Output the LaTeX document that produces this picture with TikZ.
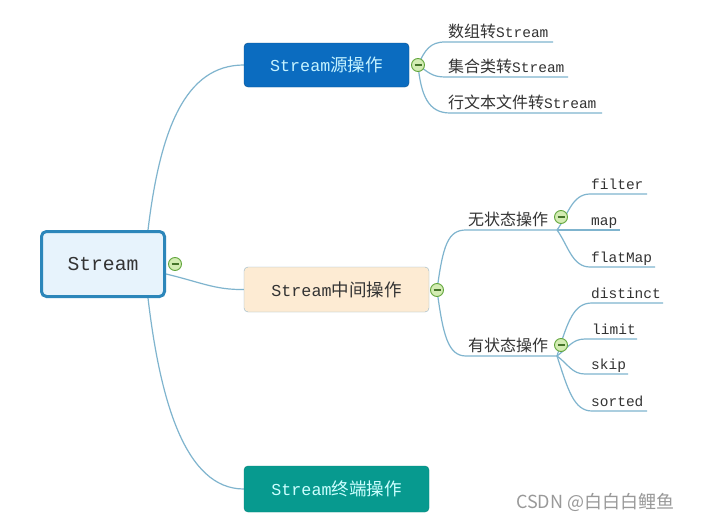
\documentclass[tikz,border=0pt]{standalone}
\usepackage{fontspec}
\setmonofont{Liberation Mono}
\newfontfamily\cjk{Noto Sans CJK SC}
\usetikzlibrary{backgrounds}
\definecolor{linec}{HTML}{7FB4CE}
\definecolor{rootdraw}{HTML}{2C86BA}
\definecolor{rootfill}{HTML}{E7F3FC}
\definecolor{srcfill}{HTML}{0B6CC0}
\definecolor{srcdraw}{HTML}{0A4F8A}
\definecolor{srctext}{HTML}{C5F3FF}
\definecolor{midfill}{HTML}{FDEBD3}
\definecolor{middraw}{HTML}{93B5C8}
\definecolor{termfill}{HTML}{079A8F}
\definecolor{termtext}{HTML}{CCFFFF}
\definecolor{txt}{HTML}{333333}
\definecolor{knobfill}{HTML}{D3ECB3}
\definecolor{knobdraw}{HTML}{62A63C}
\newcommand\zhbig[1]{{\cjk\fontsize{17.5}{20}\selectfont #1}}
\newcommand\zhsmall[1]{{\cjk\fontsize{16}{18}\selectfont #1}}
\tikzset{
  conn/.style={draw=linec, line width=1.2pt},
  rootbox/.style={draw=rootdraw, fill=rootfill, line width=3pt, rounded corners=5pt,
    minimum width=123pt, minimum height=65pt, text=txt,
    font=\fontsize{19.7}{22}\selectfont\ttfamily},
  mainbox/.style={rounded corners=4pt, minimum height=44pt, inner sep=0pt,
    font=\fontsize{16.7}{20}\selectfont\ttfamily},
  leaf/.style={anchor=base west, inner sep=0pt, text=txt,
    font=\fontsize{14.5}{17}\selectfont\ttfamily},
  knob/.style={circle, minimum size=13pt, inner sep=0pt, draw=knobdraw, fill=knobfill, line width=0.9pt,
    path picture={\draw[knobdraw!70!black, line width=1.1pt]
      ([xshift=-3.5pt]path picture bounding box.center) -- ([xshift=3.5pt]path picture bounding box.center);}}
}
\begin{document}
\begin{tikzpicture}[x=1pt,y=-1pt]
\useasboundingbox (0,0) rectangle (702,522);
\begin{scope}[on background layer]
\fill[white] (0,0) rectangle (702,522);
\end{scope}

% main nodes
\node[rootbox] (root) at (103,264) {Stream};
\node[mainbox, fill=srcfill, draw=srcdraw, text=srctext, minimum width=165pt] (src) at (326.5,65) {Stream\zhbig{源操作}};
\node[mainbox, fill=midfill, draw=middraw, text=txt, minimum width=185pt, minimum height=45pt] (mid) at (336.5,289.5) {Stream\zhbig{中间操作}};
\node[mainbox, fill=termfill, draw=termfill!85!black, text=termtext, minimum width=185pt, minimum height=46pt] (term) at (336.5,489) {Stream\zhbig{终端操作}};

% knobs
\node[knob] (k0) at (175,264) {};
\node[knob] (k1) at (418,65) {};
\node[knob] (k2) at (437,290) {};
\node[knob] (k3) at (561,217) {};
\node[knob] (k4) at (561,345) {};

% coordinates for underlines
\coordinate (a1s) at (445,42);  \coordinate (a1e) at (553,42);
\coordinate (a2s) at (445,77);  \coordinate (a2e) at (568,77);
\coordinate (a3s) at (450,113); \coordinate (a3e) at (602,113);
\coordinate (b1s) at (466,230); \coordinate (b1e) at (557,230);
\coordinate (b2s) at (466,356); \coordinate (b2e) at (557,356);
\coordinate (c1s) at (590,194); \coordinate (c1e) at (647,194);
\coordinate (c2e) at (620,230);
\coordinate (c3s) at (590,267); \coordinate (c3e) at (655,267);
\coordinate (d1s) at (592,303); \coordinate (d1e) at (663,303);
\coordinate (d2s) at (585,339); \coordinate (d2e) at (637,339);
\coordinate (d3s) at (585,374); \coordinate (d3e) at (628,374);
\coordinate (d4s) at (592,411); \coordinate (d4e) at (647,411);

% leaf texts
\node[leaf] (a1) at (448,37) {\zhsmall{数组转}Stream};
\node[leaf] (a2) at (448,72) {\zhsmall{集合类转}Stream};
\node[leaf] (a3) at (448,108) {\zhsmall{行文本文件转}Stream};
\node[leaf] (b1) at (468,225) {\zhsmall{无状态操作}};
\node[leaf] (b2) at (468,351) {\zhsmall{有状态操作}};
\node[leaf] (c1) at (591,189) {filter};
\node[leaf] (c2) at (591,225) {map};
\node[leaf] (c3) at (591,262) {flatMap};
\node[leaf] (d1) at (591,298) {distinct};
\node[leaf] (d2) at (592,334) {limit};
\node[leaf] (d3) at (591,369) {skip};
\node[leaf] (d4) at (591,406) {sorted};

% watermark
\node[anchor=west, inner sep=0pt, text=black!40, font=\cjk\fontsize{18}{20}\selectfont] (wm) at (516,502) {CSDN @白白白鲤鱼};

% connectors
\begin{scope}[on background layer]
\draw[conn] ([xshift=-18pt]root.north east) .. controls (160,130) and (185,65) .. (src.west);
\draw[conn] ([yshift=-10pt]root.east) .. controls (200,282) and (215,290) .. (mid.west);
\draw[conn] ([xshift=-18pt]root.south east) .. controls (160,400) and (185,489) .. (term.west);

\draw[conn] (k1.center) .. controls (425,50) and (430,42) .. (a1s) -- (a1e);
\draw[conn] (k1.center) .. controls (428,72) and (432,77) .. (a2s) -- (a2e);
\draw[conn] (k1.center) .. controls (421,95) and (428,113) .. (a3s) -- (a3e);

\draw[conn] (k2.center) .. controls (443,245) and (448,230) .. (b1s) -- (b1e);
\draw[conn] (k2.center) .. controls (443,335) and (448,356) .. (b2s) -- (b2e);

\draw[conn] (b1e) .. controls (568,215) and (572,194) .. (c1s) -- (c1e);
\draw[conn] (b1e) -- (c2e);
\draw[conn] (b1e) .. controls (568,245) and (572,267) .. (c3s) -- (c3e);

\draw[conn] (b2e) .. controls (568,320) and (574,303) .. (d1s) -- (d1e);
\draw[conn] (b2e) .. controls (568,348) and (572,339) .. (d2s) -- (d2e);
\draw[conn] (b2e) .. controls (568,364) and (572,374) .. (d3s) -- (d3e);
\draw[conn] (b2e) .. controls (568,390) and (574,411) .. (d4s) -- (d4e);
\end{scope}
\end{tikzpicture}
\end{document}
